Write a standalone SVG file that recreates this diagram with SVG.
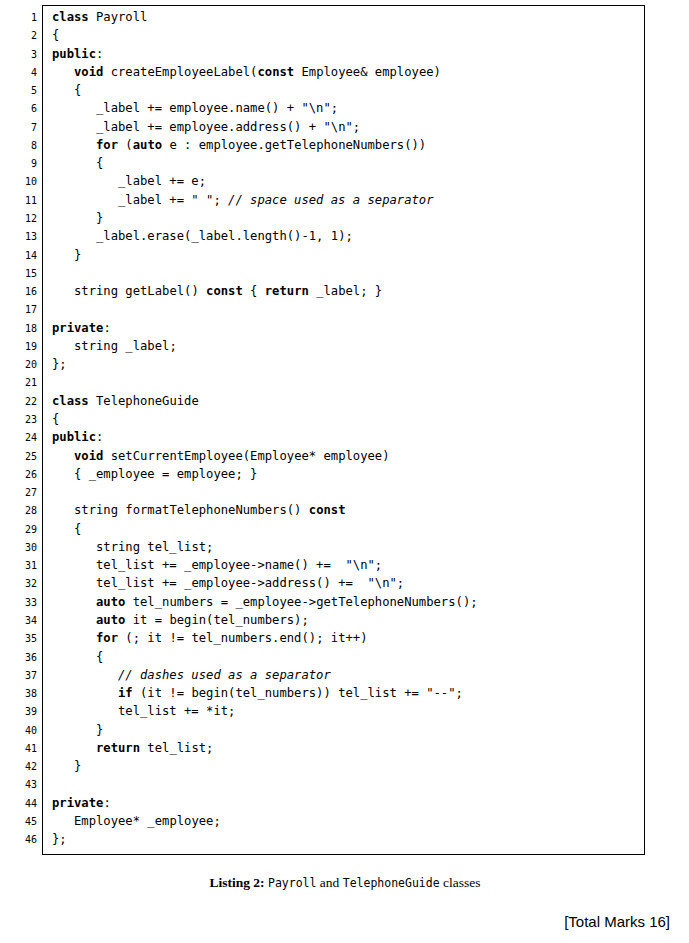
<svg xmlns="http://www.w3.org/2000/svg" width="689" height="943" viewBox="0 0 689 943">
<style>
.c{font-family:"DejaVu Sans Mono",monospace;font-size:12.2px;fill:#000;white-space:pre}
.n{font-family:"DejaVu Sans Mono",monospace;font-size:10px;fill:#000;text-anchor:end}
.b{font-weight:bold}
.i{font-style:italic}
</style>
<rect width="689" height="943" fill="#fff"/>
<g id="listing">
<rect x="42.5" y="5.5" width="602" height="849" fill="none" stroke="#000" stroke-width="1"/>
<g id="linenumbers">
<text class="n" x="37" y="21">1</text><text class="n" x="37" y="39.3">2</text><text class="n" x="37" y="57.5">3</text><text class="n" x="37" y="75.8">4</text><text class="n" x="37" y="94.1">5</text><text class="n" x="37" y="112.4">6</text><text class="n" x="37" y="130.6">7</text><text class="n" x="37" y="148.9">8</text><text class="n" x="37" y="167.2">9</text><text class="n" x="37" y="185.4">10</text><text class="n" x="37" y="203.7">11</text><text class="n" x="37" y="222">12</text><text class="n" x="37" y="240.2">13</text><text class="n" x="37" y="258.5">14</text><text class="n" x="37" y="276.8">15</text><text class="n" x="37" y="295.1">16</text><text class="n" x="37" y="313.3">17</text><text class="n" x="37" y="331.6">18</text><text class="n" x="37" y="349.9">19</text><text class="n" x="37" y="368.1">20</text><text class="n" x="37" y="386.4">21</text><text class="n" x="37" y="404.7">22</text><text class="n" x="37" y="422.9">23</text><text class="n" x="37" y="441.2">24</text><text class="n" x="37" y="459.5">25</text><text class="n" x="37" y="477.8">26</text><text class="n" x="37" y="496">27</text><text class="n" x="37" y="514.3">28</text><text class="n" x="37" y="532.6">29</text><text class="n" x="37" y="550.8">30</text><text class="n" x="37" y="569.1">31</text><text class="n" x="37" y="587.4">32</text><text class="n" x="37" y="605.6">33</text><text class="n" x="37" y="623.9">34</text><text class="n" x="37" y="642.2">35</text><text class="n" x="37" y="660.5">36</text><text class="n" x="37" y="678.7">37</text><text class="n" x="37" y="697">38</text><text class="n" x="37" y="715.3">39</text><text class="n" x="37" y="733.5">40</text><text class="n" x="37" y="751.8">41</text><text class="n" x="37" y="770.1">42</text><text class="n" x="37" y="788.3">43</text><text class="n" x="37" y="806.6">44</text><text class="n" x="37" y="824.9">45</text><text class="n" x="37" y="843.2">46</text>
</g>
<g id="code">
<text class="c" x="52" y="21"><tspan class="b">class</tspan> Payroll</text>
<text class="c" x="52" y="39.3">{</text>
<text class="c" x="52" y="57.5"><tspan class="b">public</tspan>:</text>
<text class="c" x="74" y="75.8"><tspan class="b">void</tspan> createEmployeeLabel(<tspan class="b">const</tspan> Employee&amp; employee)</text>
<text class="c" x="74" y="94.1">{</text>
<text class="c" x="96" y="112.4">_label += employee.name() + "\n";</text>
<text class="c" x="96" y="130.6">_label += employee.address() + "\n";</text>
<text class="c" x="96" y="148.9"><tspan class="b">for</tspan> (<tspan class="b">auto</tspan> e : employee.getTelephoneNumbers())</text>
<text class="c" x="96" y="167.2">{</text>
<text class="c" x="118" y="185.4">_label += e;</text>
<text class="c" x="118" y="203.7">_label += " "; <tspan class="i">// space used as a separator</tspan></text>
<text class="c" x="96" y="222">}</text>
<text class="c" x="96" y="240.2">_label.erase(_label.length()-1, 1);</text>
<text class="c" x="74" y="258.5">}</text>
<text class="c" x="74" y="295.1">string getLabel() <tspan class="b">const</tspan> { <tspan class="b">return</tspan> _label; }</text>
<text class="c" x="52" y="331.6"><tspan class="b">private</tspan>:</text>
<text class="c" x="74" y="349.9">string _label;</text>
<text class="c" x="52" y="368.1">};</text>
<text class="c" x="52" y="404.7"><tspan class="b">class</tspan> TelephoneGuide</text>
<text class="c" x="52" y="422.9">{</text>
<text class="c" x="52" y="441.2"><tspan class="b">public</tspan>:</text>
<text class="c" x="74" y="459.5"><tspan class="b">void</tspan> setCurrentEmployee(Employee* employee)</text>
<text class="c" x="74" y="477.8">{ _employee = employee; }</text>
<text class="c" x="74" y="514.3">string formatTelephoneNumbers() <tspan class="b">const</tspan></text>
<text class="c" x="74" y="532.6">{</text>
<text class="c" x="96" y="550.8">string tel_list;</text>
<text class="c" x="96" y="569.1">tel_list += _employee-&gt;name() +=  "\n";</text>
<text class="c" x="96" y="587.4">tel_list += _employee-&gt;address() +=  "\n";</text>
<text class="c" x="96" y="605.6"><tspan class="b">auto</tspan> tel_numbers = _employee-&gt;getTelephoneNumbers();</text>
<text class="c" x="96" y="623.9"><tspan class="b">auto</tspan> it = begin(tel_numbers);</text>
<text class="c" x="96" y="642.2"><tspan class="b">for</tspan> (; it != tel_numbers.end(); it++)</text>
<text class="c" x="96" y="660.5">{</text>
<text class="c" x="118" y="678.7"><tspan class="i">// dashes used as a separator</tspan></text>
<text class="c" x="118" y="697"><tspan class="b">if</tspan> (it != begin(tel_numbers)) tel_list += "--";</text>
<text class="c" x="118" y="715.3">tel_list += *it;</text>
<text class="c" x="96" y="733.5">}</text>
<text class="c" x="96" y="751.8"><tspan class="b">return</tspan> tel_list;</text>
<text class="c" x="74" y="770.1">}</text>
<text class="c" x="52" y="806.6"><tspan class="b">private</tspan>:</text>
<text class="c" x="74" y="824.9">Employee* _employee;</text>
<text class="c" x="52" y="843.2">};</text>
</g>
</g>
<g id="caption">
<text x="345" y="887" text-anchor="middle" font-family="Liberation Serif,serif" font-size="13.5"><tspan font-weight="bold">Listing 2:</tspan> <tspan font-family="DejaVu Sans Mono,monospace" font-size="11.5">Payroll</tspan> and <tspan font-family="DejaVu Sans Mono,monospace" font-size="11.5">TelephoneGuide</tspan> classes</text>
</g>
<g id="marks">
<text x="670" y="927" text-anchor="end" font-family="Liberation Sans Narrow,Liberation Sans,sans-serif" font-size="15">[Total Marks 16]</text>
</g>
</svg>
